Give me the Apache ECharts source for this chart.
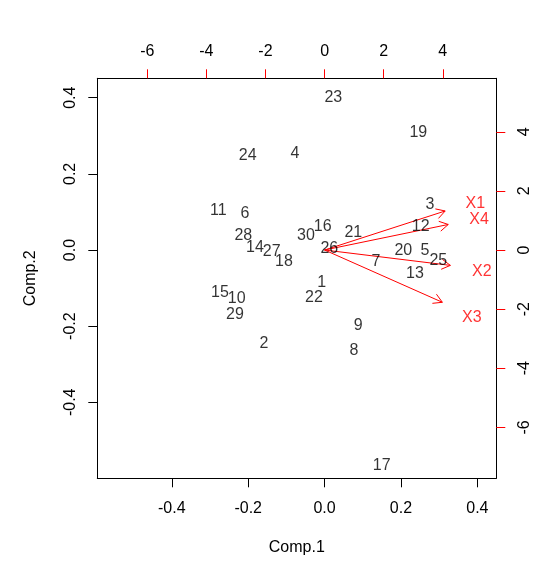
<!DOCTYPE html>
<html>
<head>
<meta charset="utf-8">
<script src="https://cdn.jsdelivr.net/npm/echarts@6/dist/echarts.min.js"></script>
<style>html,body{margin:0;padding:0;background:#fff;}#c{width:555px;height:576px;}</style>
</head>
<body>
<div id="c"></div>
<script>
var pointLabels = ['1','2','3','4','5','6','7','8','9','10','11','12','13','14','15','16','17','18','19','20','21','22','23','24','25','26','27','28','29','30'];
var comp1 = [-0.0076,-0.1586,0.2759,-0.0775,0.2628,-0.2084,0.1346,0.0770,0.0882,-0.2301,-0.2783,0.2516,0.2366,-0.1822,-0.2738,-0.0050,0.1495,-0.1063,0.2453,0.2060,0.0751,-0.0277,0.0228,-0.2013,0.2976,0.0123,-0.1385,-0.2128,-0.2346,-0.0487];
var comp2 = [-0.0806,-0.2408,0.1242,0.2582,0.0045,0.1006,-0.0263,-0.2582,-0.1925,-0.1227,0.1095,0.0657,-0.0570,0.0105,-0.1069,0.0657,-0.5620,-0.0263,0.3133,0.0026,0.0507,-0.1200,0.4052,0.2540,-0.0236,0.0092,0.0018,0.0420,-0.1636,0.0439];
var varNames = ['X1','X2','X3','X4'];
var load1 = [5.10,5.32,4.98,5.23];
var load2 = [1.65,-0.65,-2.21,1.08];
var compTicks = [-0.4,-0.2,0,0.2,0.4];
var varTicks = [-6,-4,-2,0,2,4];

var FONT = 'Liberation Sans, Arial, sans-serif';
var chart = echarts.init(document.getElementById('c'));

var pts = pointLabels.map(function(n,i){return {name:n, value:[comp1[i],comp2[i]]};});
var vars = varNames.map(function(n,i){return {name:n, value:[load1[i],load2[i]]};});

function axisCommon(pos, mn, mx, ticks, tickColor, rot, dec, margin){
  return {
    type:'value', position:pos, min:mn, max:mx,
    splitLine:{show:false},
    axisLine:{show:true, onZero:false, lineStyle:{color:'#000', width:1}},
    axisTick:{show:true, inside:false, length:9, customValues:ticks, lineStyle:{color:tickColor, width:1}},
    axisLabel:{show:true, customValues:ticks, margin:margin, rotate:rot, color:'#000', fontSize:16, fontFamily:FONT,
      formatter:function(v){return dec ? (Math.abs(v)<1e-9?'0.0':v.toFixed(1)) : String(Math.round(v));}}
  };
}

var xb = axisCommon('bottom', -0.595, 0.4495, compTicks, '#000', 0, true, 22);
xb.name='Comp.1'; xb.nameLocation='middle'; xb.nameGap=61; xb.nameTextStyle={color:'#000',fontSize:16,fontFamily:FONT};
var xt = axisCommon('top', -7.69, 5.81, varTicks, '#ff0000', 0, false, 19);
var yl = axisCommon('left', -0.5996, 0.451, compTicks, '#000', 90, true, 19);
yl.name='Comp.2'; yl.nameLocation='middle'; yl.nameGap=59; yl.nameRotate=90; yl.nameTextStyle={color:'#000',fontSize:16,fontFamily:FONT};
var yr = axisCommon('right', -7.723, 5.809, varTicks, '#ff0000', 90, false, 20);

chart.setOption({
  animation:false,
  backgroundColor:'#fff',
  grid:{left:97.3, right:58.7, top:78.3, bottom:97.7, containLabel:false},
  xAxis:[xb, xt],
  yAxis:[yl, yr],
  series:[
    {type:'scatter', xAxisIndex:0, yAxisIndex:0, data:pts, symbolSize:1, itemStyle:{color:'rgba(0,0,0,0)'},
     label:{show:true, position:'inside', offset:[0,2], formatter:'{b}', color:'#000', fontSize:16, fontFamily:FONT}},
    {type:'custom', xAxisIndex:1, yAxisIndex:1, coordinateSystem:'cartesian2d', clip:false, data:vars.map(function(d){return d.value;}),
     renderItem:function(params, api){
       var p0 = api.coord([0,0]);
       var p1 = api.coord([api.value(0)*0.8, api.value(1)*0.8]);
       var th = Math.atan2(p1[1]-p0[1], p1[0]-p0[0]);
       var L = 10, a = Math.PI/6;
       var h1 = [p1[0]-L*Math.cos(th-a), p1[1]-L*Math.sin(th-a)];
       var h2 = [p1[0]-L*Math.cos(th+a), p1[1]-L*Math.sin(th+a)];
       return {type:'group', children:[
         {type:'line', shape:{x1:p0[0],y1:p0[1],x2:p1[0],y2:p1[1]}, style:{stroke:'#ff0000', lineWidth:1}},
         {type:'polyline', shape:{points:[h1,p1,h2]}, style:{stroke:'#ff0000', lineWidth:1, fill:null}}
       ]};
     }},
    {type:'scatter', xAxisIndex:1, yAxisIndex:1, data:vars, symbolSize:1, itemStyle:{color:'rgba(0,0,0,0)'},
     label:{show:true, position:'inside', offset:[0,2], formatter:'{b}', color:'#ff0000', fontSize:16, fontFamily:FONT}}
  ]
});
</script>
</body>
</html>
